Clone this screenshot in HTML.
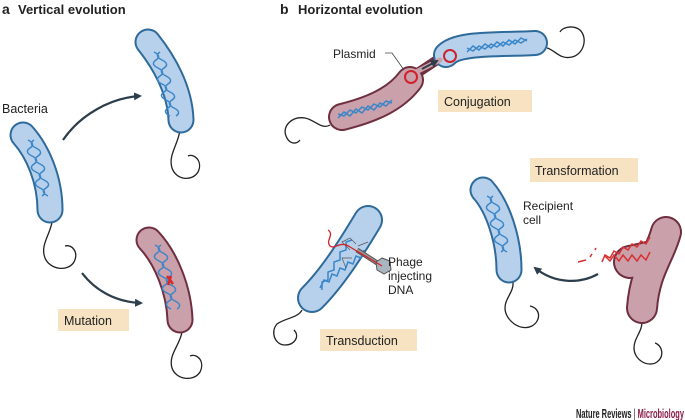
<!DOCTYPE html>
<html><head><meta charset="utf-8"><style>
html,body{margin:0;padding:0;background:#fff;width:685px;height:420px;overflow:hidden}
svg{display:block}
text{font-family:"Liberation Sans",sans-serif;fill:#222}
</style></head><body>
<svg width="685" height="420" viewBox="0 0 685 420" xmlns="http://www.w3.org/2000/svg">
<defs>
<marker id="ah" markerWidth="8" markerHeight="8" refX="6" refY="4" orient="auto" markerUnits="userSpaceOnUse"><path d="M0,0 L8,4 L0,8 Z" fill="#2c3e4c"/></marker>
</defs>
<text x="2" y="14" font-size="14" font-weight="bold">a</text>
<text x="18" y="14" font-size="13" font-weight="bold">Vertical evolution</text>
<text x="280" y="14" font-size="14" font-weight="bold">b</text>
<text x="298" y="14" font-size="13" font-weight="bold">Horizontal evolution</text>

<g fill="none" stroke="#222" stroke-width="1.3">
<path d="M180,130 C178,145 168,155 172,168 C176,180 192,182 198,172 C203,162 195,153 188,156"/>
<path d="M52,222 C50,235 40,245 45,258 C50,270 68,272 74,262 C79,252 72,244 65,246"/>
<path d="M182,332 C180,345 168,355 172,368 C176,380 194,382 200,372 C205,362 198,353 190,356"/>
<path d="M330,125 C322,130 315,120 305,118 C292,116 282,126 286,136 C289,144 296,145 300,140"/>
<path d="M547,48 C555,50 560,60 572,57 C584,54 588,38 580,30 C572,24 562,28 560,32"/>
<path d="M302,310 C298,318 285,318 277,324 C270,332 275,345 285,345 C295,345 300,336 294,330"/>
<path d="M513,282 C514,292 505,298 505,308 C505,320 520,332 532,326 C542,320 540,308 530,306"/>
<path d="M642,322 C642,332 634,338 634,348 C634,360 648,368 657,362 C665,356 662,345 655,343"/>
</g>

<g fill="none" stroke-linecap="round">
<path d="M148,42 C164,62 180,90 181,120" stroke="#2e6a9a" stroke-width="27"/>
<path d="M148,42 C164,62 180,90 181,120" stroke="#b7d1ec" stroke-width="23"/>
<path d="M23,135 C38,152 50,180 50,210" stroke="#2e6a9a" stroke-width="27"/>
<path d="M23,135 C38,152 50,180 50,210" stroke="#b7d1ec" stroke-width="23"/>
<path d="M149,240 C166,258 179,290 180,320" stroke="#6f2f40" stroke-width="27"/>
<path d="M149,240 C166,258 179,290 180,320" stroke="#caa0ab" stroke-width="23"/>
<path d="M410,78 L440,58" stroke="#6f2f40" stroke-width="10"/>
<path d="M342,117 C370,110 395,100 410,80" stroke="#6f2f40" stroke-width="28"/>
<path d="M342,117 C370,110 395,100 410,80" stroke="#caa0ab" stroke-width="24"/>
<path d="M446,55 C458,42 500,45 535,43" stroke="#2e6a9a" stroke-width="26"/>
<path d="M446,55 C458,42 500,45 535,43" stroke="#b7d1ec" stroke-width="22"/>
<path d="M414,73 L440,60" stroke="#caa0ab" stroke-width="5"/>
<path d="M312,298 C332,278 350,250 368,220" stroke="#2e6a9a" stroke-width="30"/>
<path d="M312,298 C332,278 350,250 368,220" stroke="#b7d1ec" stroke-width="26"/>
<path d="M483,190 C498,207 509,240 509,270" stroke="#2e6a9a" stroke-width="27"/>
<path d="M483,190 C498,207 509,240 509,270" stroke="#b7d1ec" stroke-width="23"/>
<path d="M666,232 C660,255 645,270 642,308" stroke="#6f2f40" stroke-width="32"/>
<path d="M630,262 L648,258" stroke="#6f2f40" stroke-width="34"/>
<path d="M666,232 C660,255 645,270 642,308" stroke="#caa0ab" stroke-width="28"/>
<path d="M630,262 L648,258" stroke="#caa0ab" stroke-width="30"/>
</g>

<g fill="none" stroke="#3a86c8" stroke-width="1.5">
<path d="M154,52 q8,4 2,8 q-6,4 2,8 q8,4 2,8 q-6,4 2,8 q8,4 2,8 q-6,4 2,8 q8,4 2,8 q-6,4 2,8"/>
<path d="M160,52 q-6,4 2,8 q8,4 2,8 q-6,4 2,8 q8,4 2,8 q-6,4 2,8 q8,4 2,8 q-6,4 2,8 q8,4 2,8"/>
<path d="M28,140 q8,4 2,8 q-6,4 2,8 q8,4 2,8 q-6,4 2,8 q8,4 2,8 q-6,4 2,8 q8,4 2,8"/>
<path d="M34,140 q-6,4 2,8 q8,4 2,8 q-6,4 2,8 q8,4 2,8 q-6,4 2,8 q8,4 2,8 q-6,4 2,8"/>
<path d="M155,245 q8,4 2,8 q-6,4 2,8 q8,4 2,8 q-6,4 2,8 q8,4 2,8 q-6,4 2,8 q8,4 2,8 q-6,4 2,8"/>
<path d="M161,245 q-6,4 2,8 q8,4 2,8 q-6,4 2,8 q8,4 2,8 q-6,4 2,8 q8,4 2,8 q-6,4 2,8 q8,4 2,8"/>
<path d="M338,118 l6,-6 l6,4 l6,-7 l6,4 l6,-7 l6,4 l6,-7 l6,3 l6,-6"/>
<path d="M338,114 l6,2 l6,-6 l6,3 l6,-6 l6,3 l6,-6 l6,3 l6,-6 l6,2"/>
<path d="M467,52 l6,-6 l6,4 l6,-6 l6,4 l6,-6 l6,4 l6,-6 l6,4 l6,-6 l6,3"/>
<path d="M467,48 l6,3 l6,-5 l6,3 l6,-5 l6,3 l6,-5 l6,3 l6,-5 l6,3 l6,-4"/>
<path d="M320,288 l4,-8 l5,2 l3,-8 l5,2 l3,-8 l5,2 l3,-8 l5,2 l3,-8 l5,2 l3,-8"/>
<path d="M322,290 l0,-8 l6,-2 l0,-8 l6,-2 l0,-8 l6,-2 l0,-8 l6,-2 l0,-8 l6,-2"/>
<path d="M487,196 q8,4 2,8 q-6,4 2,8 q8,4 2,8 q-6,4 2,8 q8,4 2,8 q-6,4 2,8 q8,4 2,8"/>
<path d="M493,196 q-6,4 2,8 q8,4 2,8 q-6,4 2,8 q8,4 2,8 q-6,4 2,8 q8,4 2,8 q-6,4 2,8"/>
</g>
<path d="M167,276 l6,8 M171,276 l-3,9" stroke="#d62a2a" stroke-width="2.5"/>

<g fill="none" stroke="#d83030" stroke-width="1.5">
<path d="M578,262 l8,-2 M590,257 l2,-3 M595,250 l1,-2 M602,262 l3,-7 l5,3 l4,-7 l5,3 l4,-7 l5,3 l4,-6 l5,3 l4,-6 l5,3 l4,-7"/>
<path d="M605,256 l5,5 l4,-6 l5,6 l4,-6 l5,6 l4,-6 l5,6 l4,-6 l5,5 l4,-8"/>
</g>

<circle cx="411" cy="77" r="6" fill="none" stroke="#d0222a" stroke-width="2"/>
<circle cx="450" cy="56" r="6" fill="none" stroke="#d0222a" stroke-width="2"/>
<path d="M422,69 L437,61" stroke="#2c3e4c" stroke-width="2" marker-end="url(#ah)"/>
<path d="M385,53 L392,53 L404,70" stroke="#444" stroke-width="0.8" fill="none"/>
<text x="333" y="58" font-size="12">Plasmid</text>

<g stroke="#555" stroke-width="0.7" fill="none">
<path d="M350,250 l-8,-8 l8,-4 l6,6 M352,258 l-10,0 l4,10 M358,246 l10,-4"/>
</g>
<path d="M357,250 L382,266" stroke="#555" stroke-width="5"/>
<path d="M357,250 L382,266" stroke="#999" stroke-width="3"/>
<polygon points="382,258 390,261 391,270 384,274 377,270 376,262" fill="#a9b6bf" stroke="#555" stroke-width="1"/>
<path d="M382,266 L350,247 C340,240 335,250 330,246 C325,240 335,235 328,230" stroke="#d0222a" stroke-width="1.3" fill="none"/>
<text x="388" y="266" font-size="12">Phage</text>
<text x="388" y="280" font-size="12">injecting</text>
<text x="388" y="294" font-size="12">DNA</text>

<g fill="none" stroke="#2c3e4c" stroke-width="2.2">
<path d="M63,140 C80,115 110,98 140,96" marker-end="url(#ah)"/>
<path d="M82,273 C95,290 115,302 141,303" marker-end="url(#ah)"/>
<path d="M598,274 C580,284 555,284 535,268" marker-end="url(#ah)"/>
</g>

<text x="2" y="113" font-size="12.5">Bacteria</text>
<text x="523" y="210" font-size="12">Recipient</text>
<text x="523" y="224" font-size="12">cell</text>
<rect x="58" y="309" width="71" height="22" fill="#f7e3c1"/>
<text x="64" y="325" font-size="12.5">Mutation</text>
<rect x="438" y="90" width="94" height="22" fill="#f7e3c1"/>
<text x="444" y="106" font-size="12.5">Conjugation</text>
<rect x="530" y="158" width="108" height="24" fill="#f7e3c1"/>
<text x="535" y="175" font-size="12.5">Transformation</text>
<rect x="320" y="329" width="97" height="22" fill="#f7e3c1"/>
<text x="326" y="345" font-size="12.5">Transduction</text>

<text x="684" y="418" font-size="12.5" font-weight="bold" text-anchor="end" textLength="108" lengthAdjust="spacingAndGlyphs">Nature Reviews <tspan font-weight="normal">|</tspan> <tspan fill="#8a1a45">Microbiology</tspan></text>
</svg>
</body></html>
